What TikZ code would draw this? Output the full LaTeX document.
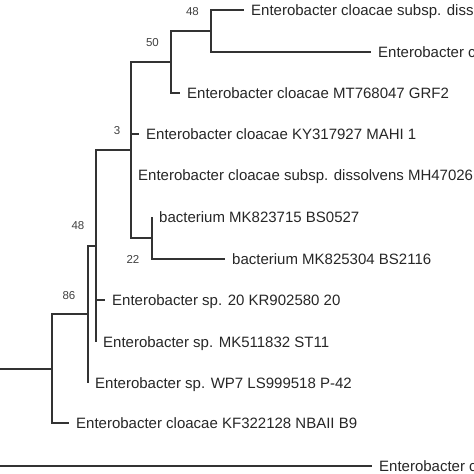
\documentclass[tikz,border=0pt]{standalone}
\usepackage{fontspec}
\setmainfont{Liberation Sans}
\begin{document}
\begin{tikzpicture}[
        x=1pt, y=-1pt,
        branch/.style={draw=black!80, line width=1.3pt},
        taxon/.style={anchor=west, inner xsep=7pt, inner ysep=0pt, text height=10.7pt, text depth=0pt, text=black!85, font=\fontsize{15}{18}\selectfont},
        boot/.style={inner sep=0pt, text=black!75, font=\fontsize{11.5}{13}\selectfont}
    ]
    \useasboundingbox (0,0) rectangle (474,474);

    % ==========================================
    % Inner nodes of the tree
    % ==========================================
    \coordinate (nA) at (211,31);   % 48
    \coordinate (nB) at (171,62);   % 50
    \coordinate (nC) at (131,150);  % 3
    \coordinate (nD) at (152,238);  % 22
    \coordinate (nE) at (96,246);   % 48
    \coordinate (nF) at (88,314);   % 86
    \coordinate (nG) at (52,369);
    \coordinate (rootG) at (-10,369); % off the picture
    \coordinate (rootR) at (-10,466);

    % ==========================================
    % Taxa
    % ==========================================
    \node[taxon] (tA1) at (244,10) {Enterobacter cloacae subsp. diss};
    \node[taxon] (tA2) at (371,52) {Enterobacter c};
    \node[taxon] (tB) at (180,93) {Enterobacter cloacae MT768047 GRF2};
    \node[taxon] (tC1) at (139,134) {Enterobacter cloacae KY317927 MAHI 1};
    \node[taxon] (tC2) at (131,175) {Enterobacter cloacae subsp. dissolvens MH47026};
    \node[taxon] (tD1) at (152,217) {bacterium MK823715 BS0527};
    \node[taxon] (tD2) at (225,259) {bacterium MK825304 BS2116};
    \node[taxon] (tE1) at (105,300) {Enterobacter sp. 20 KR902580 20};
    \node[taxon] (tE2) at (96,342) {Enterobacter sp. MK511832 ST11};
    \node[taxon] (tF) at (88,383) {Enterobacter sp. WP7 LS999518 P-42};
    \node[taxon] (tG) at (69,423) {Enterobacter cloacae KF322128 NBAII B9};
    \node[taxon] (tR) at (372,466) {Enterobacter c};

    % ==========================================
    % Branches
    % ==========================================
    \draw[branch] (nA) |- (tA1.west);
    \draw[branch] (nA) |- (tA2.west);
    \draw[branch] (nB) |- (nA);
    \draw[branch] (nB) |- (tB.west);
    \draw[branch] (nC) |- (nB);
    \draw[branch] (nC) |- (tC1.west);
    \draw[branch] (nC) |- (nD);
    \draw[branch] (nD) |- (tD1.west);
    \draw[branch] (nD) |- (tD2.west);
    \draw[branch] (nE) |- (nC);
    \draw[branch] (nE) |- (tE1.west);
    \draw[branch] (nE) |- (tE2.west);
    \draw[branch] (nF) |- (nE);
    \draw[branch] (nF) |- (tF.west);
    \draw[branch] (nG) |- (nF);
    \draw[branch] (nG) |- (tG.west);
    \draw[branch] (rootG) -- (nG);
    \draw[branch] (rootR) -- (tR.west);

    % ==========================================
    % Bootstrap values
    % ==========================================
    \node[boot] (bA) at (192.5,11.5) {48};
    \node[boot] (bB) at (152.5,42.5) {50};
    \node[boot] (bC) at (117,131) {3};
    \node[boot] (bD) at (133,259.5) {22};
    \node[boot] (bE) at (78,226) {48};
    \node[boot] (bF) at (69,295.5) {86};

\end{tikzpicture}
\end{document}
